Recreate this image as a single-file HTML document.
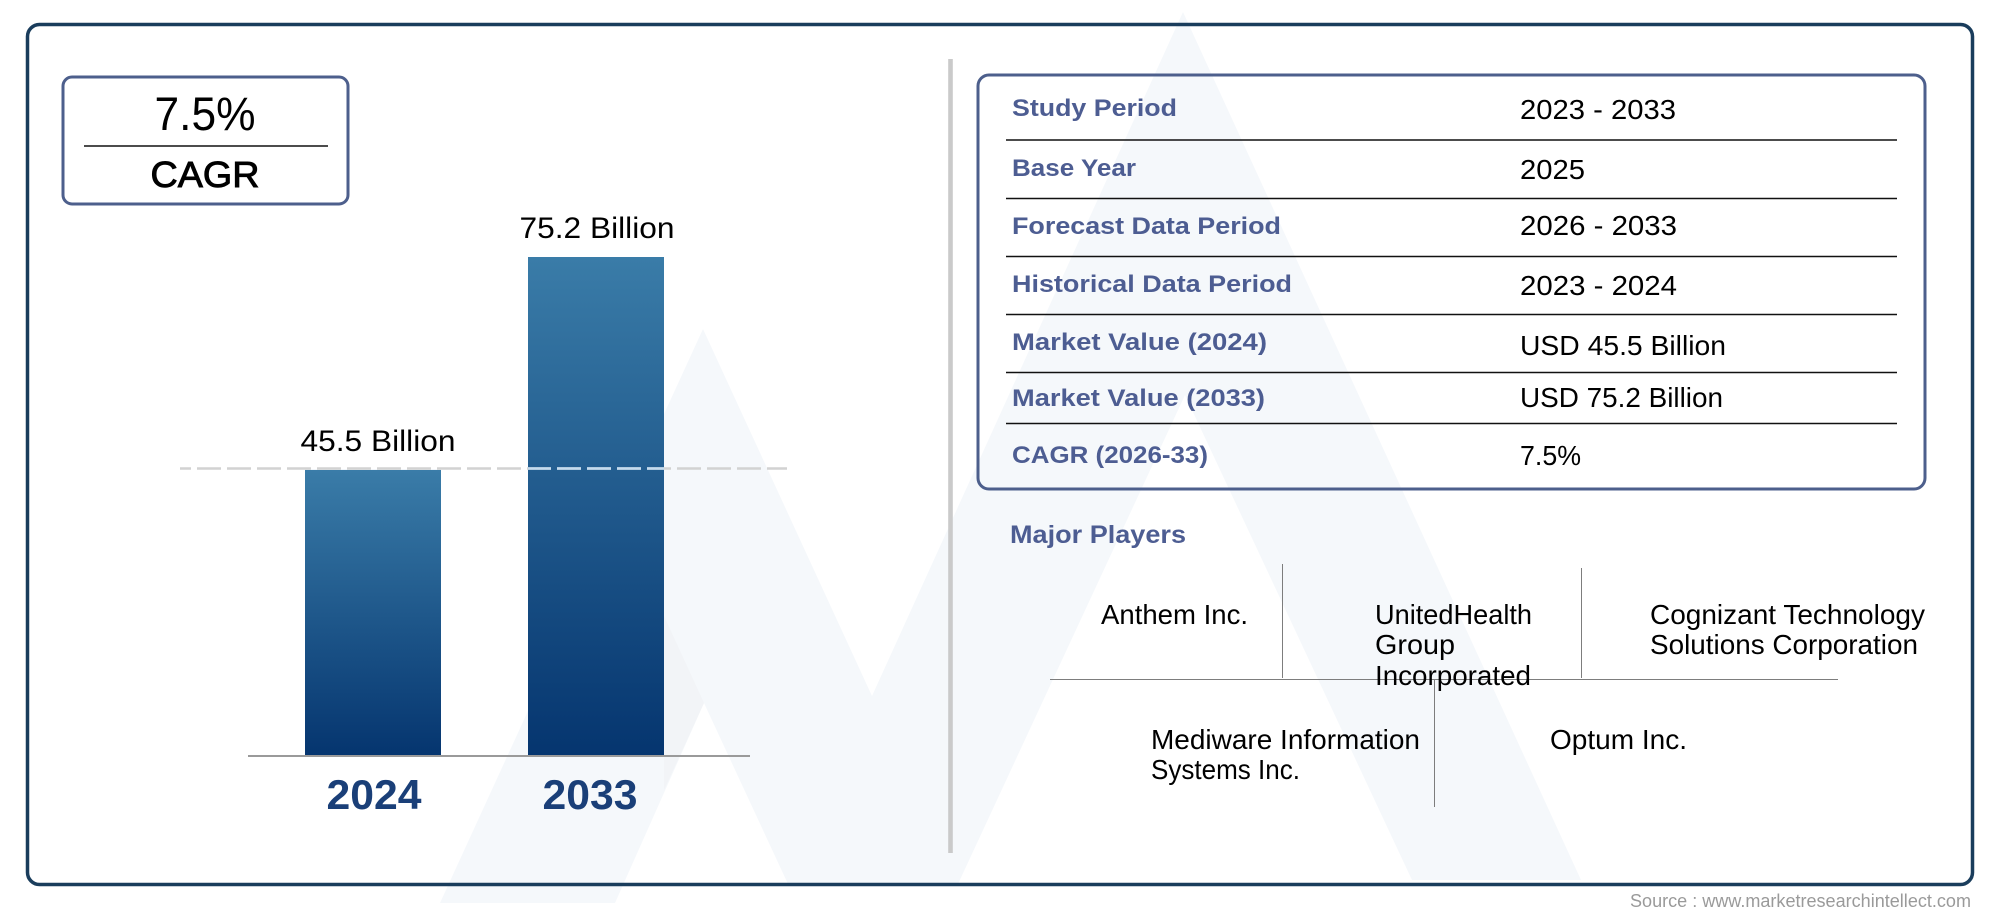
<!DOCTYPE html>
<html lang="en">
<head>
<meta charset="utf-8">
<title>Market Overview Chart</title>
<style>
html,body{margin:0;padding:0;background:#fff;}
svg{display:block;}
text{font-family:"Liberation Sans",sans-serif;}
.lbl{font-size:24px;font-weight:bold;fill:#4d5d92;}
.val{font-size:28px;fill:#000;}
.ply{font-size:28px;fill:#000;}
.rule{stroke:#111;stroke-width:1.5;}
.sep{stroke:#7d7d7d;stroke-width:1;}
</style>
</head>
<body>
<svg id="chart" xmlns="http://www.w3.org/2000/svg" width="2000" height="917" viewBox="0 0 2000 917">
  <defs>
    <linearGradient id="barFill" x1="0" y1="0" x2="0" y2="1">
      <stop offset="0" stop-color="#3a7ca8"/>
      <stop offset="1" stop-color="#05356f"/>
    </linearGradient>
  </defs>
  <polygon fill="#f5f8fb" points="440,903 703,329 872,696 1183,12 1581,880 1412,880 1185,395 958,884 788,884 704,703 615,903"/>
  <polygon fill="#f2f4f7" points="664,616 704,703 664,790"/>
  <rect x="27.5" y="24.5" width="1945" height="860" rx="12" fill="none" stroke="#1a3d5c" stroke-width="3.5"/>

  <g>
    <rect x="63" y="77" width="285" height="127" rx="9" fill="none" stroke="#4d5f8c" stroke-width="3"/>
    <text x="205" y="130" font-size="47" text-anchor="middle" textLength="101" lengthAdjust="spacingAndGlyphs">7.5%</text>
    <line x1="84" y1="146" x2="328" y2="146" stroke="#111" stroke-width="1.5"/>
    <text x="205" y="187" font-size="36" text-anchor="middle" stroke="#000" stroke-width="0.9" textLength="109" lengthAdjust="spacingAndGlyphs">CAGR</text>
  </g>

  <g id="bars"></g>

  <line x1="950.5" y1="59" x2="950.5" y2="853" stroke="#cacaca" stroke-width="4.6"/>

  <g>
    <rect x="978" y="75" width="947" height="414" rx="11" fill="none" stroke="#4d5f8c" stroke-width="3"/>
    <line class="rule" x1="1006" y1="140" x2="1897" y2="140"/>
    <line class="rule" x1="1006" y1="198.5" x2="1897" y2="198.5"/>
    <line class="rule" x1="1006" y1="256.5" x2="1897" y2="256.5"/>
    <line class="rule" x1="1006" y1="314.5" x2="1897" y2="314.5"/>
    <line class="rule" x1="1006" y1="372.5" x2="1897" y2="372.5"/>
    <line class="rule" x1="1006" y1="423.5" x2="1897" y2="423.5"/>

    <text class="lbl" x="1012" y="116" textLength="165" lengthAdjust="spacingAndGlyphs">Study Period</text>
    <text class="lbl" x="1012" y="176" textLength="124" lengthAdjust="spacingAndGlyphs">Base Year</text>
    <text class="lbl" x="1012" y="234" textLength="269" lengthAdjust="spacingAndGlyphs">Forecast Data Period</text>
    <text class="lbl" x="1012" y="292" textLength="280" lengthAdjust="spacingAndGlyphs">Historical Data Period</text>
    <text class="lbl" x="1012" y="350" textLength="255" lengthAdjust="spacingAndGlyphs">Market Value (2024)</text>
    <text class="lbl" x="1012" y="406" textLength="253" lengthAdjust="spacingAndGlyphs">Market Value (2033)</text>
    <text class="lbl" x="1012" y="463" textLength="196" lengthAdjust="spacingAndGlyphs">CAGR (2026-33)</text>

    <text class="val" x="1520" y="119" textLength="156" lengthAdjust="spacingAndGlyphs">2023 - 2033</text>
    <text class="val" x="1520" y="179" textLength="65" lengthAdjust="spacingAndGlyphs">2025</text>
    <text class="val" x="1520" y="235" textLength="157" lengthAdjust="spacingAndGlyphs">2026 - 2033</text>
    <text class="val" x="1520" y="295" textLength="157" lengthAdjust="spacingAndGlyphs">2023 - 2024</text>
    <text class="val" x="1520" y="355" textLength="206" lengthAdjust="spacingAndGlyphs">USD 45.5 Billion</text>
    <text class="val" x="1520" y="407" textLength="203" lengthAdjust="spacingAndGlyphs">USD 75.2 Billion</text>
    <text class="val" x="1520" y="465" textLength="61" lengthAdjust="spacingAndGlyphs">7.5%</text>
  </g>

  <g>
    <text x="1010" y="543" font-size="25" font-weight="bold" fill="#4d5d92" textLength="176" lengthAdjust="spacingAndGlyphs">Major Players</text>
    <line class="sep" x1="1282.5" y1="564" x2="1282.5" y2="678"/>
    <line class="sep" x1="1581.5" y1="568" x2="1581.5" y2="678"/>
    <line class="sep" x1="1050" y1="679.5" x2="1838" y2="679.5"/>
    <line class="sep" x1="1434.5" y1="679" x2="1434.5" y2="807"/>

    <text class="ply" x="1101" y="624" textLength="147" lengthAdjust="spacingAndGlyphs">Anthem Inc.</text>
    <g>
      <text class="ply" x="1375" y="624" textLength="157" lengthAdjust="spacingAndGlyphs">UnitedHealth</text>
      <text class="ply" x="1375" y="654" textLength="80" lengthAdjust="spacingAndGlyphs">Group</text>
      <text class="ply" x="1375" y="685" textLength="156" lengthAdjust="spacingAndGlyphs">Incorporated</text>
    </g>
    <g>
      <text class="ply" x="1650" y="624" textLength="275" lengthAdjust="spacingAndGlyphs">Cognizant Technology</text>
      <text class="ply" x="1650" y="654" textLength="268" lengthAdjust="spacingAndGlyphs">Solutions Corporation</text>
    </g>
    <g>
      <text class="ply" x="1151" y="749" textLength="269" lengthAdjust="spacingAndGlyphs">Mediware Information</text>
      <text class="ply" x="1151" y="779" textLength="149" lengthAdjust="spacingAndGlyphs">Systems Inc.</text>
    </g>
    <text class="ply" x="1550" y="749" textLength="137" lengthAdjust="spacingAndGlyphs">Optum Inc.</text>
  </g>

  <text x="1630" y="907" font-size="18" fill="#9a9a9a" textLength="341" lengthAdjust="spacingAndGlyphs">Source : www.marketresearchintellect.com</text>
</svg>
<script>
const categories = ["2024", "2033"];
const values = [45.5, 75.2];
const valueLabels = ["45.5 Billion", "75.2 Billion"];

const svgNS = "http://www.w3.org/2000/svg";
const group = document.getElementById("bars");
const baselineY = 756;
const yDomainMin = 5.6, yDomainMax = 75.2, yRangeTop = 257;
function yScale(v) {
  return baselineY - (v - yDomainMin) / (yDomainMax - yDomainMin) * (baselineY - yRangeTop);
}
const bandStart = 305, bandStep = 223, bandWidth = 136;
function xScale(i) {
  return bandStart + i * bandStep;
}
function make(tag, attrs) {
  const el = document.createElementNS(svgNS, tag);
  for (const k in attrs) el.setAttribute(k, attrs[k]);
  return el;
}

categories.forEach(function (cat, i) {
  const x = xScale(i);
  const top = yScale(values[i]);
  const bar = make("rect", { x: x, y: top, width: bandWidth, height: baselineY - top, fill: "url(#barFill)" });
  
  
  group.appendChild(bar);
});

const dashY = 468.5, dashOrigin = 167, dashPeriod = 30;
const dash = make("line", { x1: 180, y1: dashY, x2: 787, y2: dashY, stroke: "#d2d2d2", "stroke-width": 2.5, "stroke-dasharray": "24 6", "stroke-dashoffset": 13 });


group.appendChild(dash);

categories.forEach(function (cat, i) {
  const x = xScale(i);
  if (yScale(values[i]) < dashY) {
    const over = make("line", { x1: x, y1: dashY, x2: x + bandWidth, y2: dashY, stroke: "#c4dcef", "stroke-width": 2.5, "stroke-dasharray": "24 6", "stroke-dashoffset": (x - dashOrigin) % dashPeriod });
    
    
    group.appendChild(over);
  }
});

const axis = make("line", { x1: 248, y1: 756, x2: 750, y2: 756, stroke: "#9a9a9a", "stroke-width": 2 });


group.appendChild(axis);

categories.forEach(function (cat, i) {
  const cx = xScale(i) + bandWidth / 2;
  const top = yScale(values[i]);
  const valueLabel = make("text", { x: cx + (i === 0 ? 5 : 1), y: top - 19, "font-size": 30, "text-anchor": "middle", fill: "#000", textLength: 155, lengthAdjust: "spacingAndGlyphs" });
  valueLabel.textContent = valueLabels[i];
  
  
  group.appendChild(valueLabel);

  const tick = make("text", { x: cx + (i === 0 ? 1 : -6), y: 809, "font-size": 42, "font-weight": "bold", "text-anchor": "middle", fill: "#1a3f78", textLength: 95, lengthAdjust: "spacingAndGlyphs" });
  tick.textContent = cat;
  
  
  group.appendChild(tick);
});
</script>
</body>
</html>
